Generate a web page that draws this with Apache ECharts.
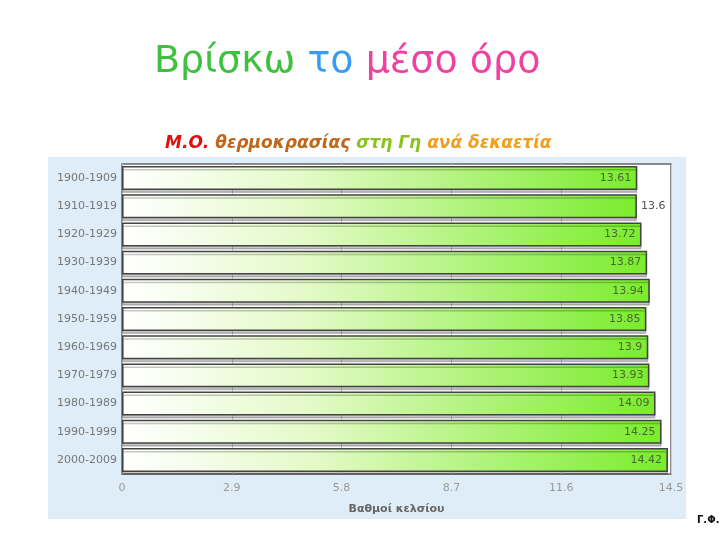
<!DOCTYPE html>
<html>
<head>
<meta charset="utf-8">
<script src="https://cdn.jsdelivr.net/npm/echarts@6/dist/echarts.min.js"></script>
<style>
html,body{margin:0;padding:0;background:#fff;}
#main{width:728px;height:546px;}
</style>
</head>
<body>
<div id="main"></div>
<script>
var categories = ['1900-1909','1910-1919','1920-1929','1930-1939','1940-1949','1950-1959','1960-1969','1970-1979','1980-1989','1990-1999','2000-2009'];
var values = [13.61, 13.6, 13.72, 13.87, 13.94, 13.85, 13.9, 13.93, 14.09, 14.25, 14.42];
var outsideLabels = ['1910-1919'];
var axisMin = 0, axisMax = 14.5, axisStep = 2.9;

var chart = echarts.init(document.getElementById('main'), null, {renderer:'canvas'});
var barData = values.map(function(v, i){
  var item = {value: v};
  if (outsideLabels.indexOf(categories[i]) >= 0) {
    item.label = {position: 'right', color: '#555', distance: 4};
  }
  return item;
});
var ff = 'DejaVu Sans';
function sub(c){ return {fill:c, fontSize:17, fontWeight:'bold', fontStyle:'italic', fontFamily:ff}; }
chart.setOption({
  animation: false,
  backgroundColor: '#ffffff',
  graphic: [
    {type:'rect', z:-10, shape:{x:48, y:157, width:638, height:362}, style:{fill:'#deedf7'}},
    {type:'text', left:154, top:43, style:{
      text:'{a|Βρίσκω }{b|το }{c|μέσο όρο}',
      rich:{
        a:{fill:'#40c040', fontSize:38, fontFamily:ff},
        b:{fill:'#3a9cf0', fontSize:38, fontFamily:ff},
        c:{fill:'#f040a0', fontSize:38, fontFamily:ff}
      }
    }},
    {type:'text', left:165, top:135, style:{
      text:'{a|Μ.Ο. }{b|θερμοκρασίας }{c|στη Γη }{d|ανά δεκαετία}',
      rich:{ a:sub('#e01010'), b:sub('#c0661a'), c:sub('#8cc21e'), d:sub('#f0a020') }
    }},
    {type:'text', left:697, top:515, style:{text:'Γ.Φ.', fill:'#111', fontSize:10, fontWeight:'bold', fontFamily:ff}}
  ],
  grid: {left:122, right:57, top:164, bottom:72, show:true, backgroundColor:'#ffffff', borderColor:'#666', borderWidth:1.5},
  xAxis: {
    type:'value', min:axisMin, max:axisMax, interval:axisStep,
    name:'Βαθμοί κελσίου', nameLocation:'middle', nameGap:30,
    nameTextStyle:{color:'#666', fontSize:11, fontWeight:'bold', fontFamily:ff},
    axisLine:{show:false}, axisTick:{show:false},
    axisLabel:{color:'#999', fontSize:11, fontFamily:ff, margin:9,
      formatter:function(v){ return String(Math.round(v*10)/10); }},
    splitLine:{show:true, lineStyle:{color:'#cccccc', width:1}}
  },
  yAxis: {
    type:'category', data:categories, inverse:true,
    axisLine:{show:false}, axisTick:{show:false},
    axisLabel:{color:'#777', fontSize:11, fontFamily:ff, margin:5},
    splitLine:{show:false}
  },
  series: [{
    type:'bar', data:barData, barCategoryGap:'15%',
    itemStyle:{
      color: new echarts.graphic.LinearGradient(0,0,1,0,[
        {offset:0, color:'#ffffff'},
        {offset:0.35, color:'#e4fac8'},
        {offset:1, color:'#7aec2c'}
      ]),
      borderColor:'#444', borderWidth:1.5,
      shadowColor:'rgba(0,0,0,0.22)', shadowOffsetY:3, shadowBlur:0
    },
    label:{show:true, position:'insideRight', color:'#4a6630', fontSize:11, fontFamily:ff, distance:6,
      formatter:function(p){ return String(p.value); }}
  }]
});
</script>
</body>
</html>
